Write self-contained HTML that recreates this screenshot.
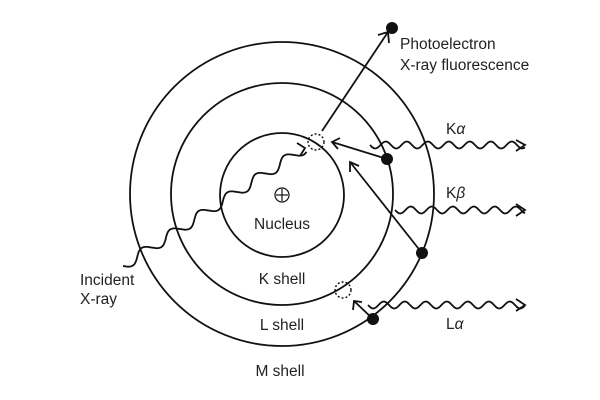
<!DOCTYPE html>
<html><head><meta charset="utf-8"><style>
html,body{margin:0;padding:0;background:#fff;}
svg{display:block;}
text{font-family:"Liberation Sans",sans-serif;font-size:15.5px;fill:#222;}
</style></head><body>
<svg id="s" width="600" height="400" viewBox="0 0 600 400" xmlns="http://www.w3.org/2000/svg">
<g fill="none" stroke="#111" stroke-width="1.8">
<circle cx="282" cy="195" r="62"/>
<circle cx="282" cy="194" r="111"/>
<circle cx="282" cy="194" r="152"/>
<circle cx="282" cy="195" r="7" stroke-width="1.2"/>
<line x1="276" y1="195" x2="288" y2="195" stroke-width="1.2"/>
<line x1="282" y1="189" x2="282" y2="201" stroke-width="1.2"/>
<circle cx="316" cy="142" r="8" stroke-dasharray="2,2" stroke-width="1.4"/>
<circle cx="343" cy="290" r="8" stroke-dasharray="2,2" stroke-width="1.4"/>
<line x1="322" y1="131" x2="388" y2="32"/>
<polyline points="378,35 388,32 389,43"/>
<line x1="387" y1="159" x2="332" y2="142"/>
<polyline points="340,138 332,142 338,149"/>
<line x1="422" y1="253" x2="350" y2="162"/>
<polyline points="350,172 350,162 359,166"/>
<line x1="373" y1="319" x2="354" y2="301"/>
<polyline points="353,310 354,301 362,302"/>
<path id="w1"/><path id="w2"/><path id="w3"/><path id="w4"/>
<polyline points="297,143 305,148 300,156"/>
<polyline points="516,140 525,145 516,151"/>
<polyline points="516,204 525,210 516,216"/>
<polyline points="516,299 525,305 516,311"/>
</g>
<g fill="#111">
<circle cx="392" cy="28" r="6"/>
<circle cx="387" cy="159" r="6"/>
<circle cx="422" cy="253" r="6"/>
<circle cx="373" cy="319" r="6"/>
</g>
<text x="400" y="49">Photoelectron</text>
<text x="400" y="70">X-ray fluorescence</text>
<text x="282" y="229" text-anchor="middle">Nucleus</text>
<text x="282" y="284" text-anchor="middle">K shell</text>
<text x="282" y="330" text-anchor="middle">L shell</text>
<text x="280" y="376" text-anchor="middle">M shell</text>
<text x="80" y="285">Incident</text>
<text x="80" y="304">X-ray</text>
<text x="446" y="134" font-size="17">K<tspan font-style="italic">α</tspan></text>
<text x="446" y="198" font-size="17">K<tspan font-style="italic">β</tspan></text>
<text x="446" y="329" font-size="17">L<tspan font-style="italic">α</tspan></text>
</svg>
<script>
function wave(id,x1,y1,x2,y2,amp,wl){
 var dx=x2-x1,dy=y2-y1,L=Math.hypot(dx,dy),ux=dx/L,uy=dy/L,nx=-uy,ny=ux,d="";
 for(var t=0;t<=L;t+=1){var o=amp*Math.sin(2*Math.PI*t/wl);
  var x=x1+ux*t+nx*o,y=y1+uy*t+ny*o;d+=(t?"L":"M")+x.toFixed(1)+","+y.toFixed(1);}
 document.getElementById(id).setAttribute("d",d);
}
wave("w1",123,266,305,148,5,34);
wave("w2",370,145,525,145,3.5,21);
wave("w3",395,210,525,210,3.5,21);
wave("w4",368,305,525,305,3.5,21);
</script>
</body></html>
